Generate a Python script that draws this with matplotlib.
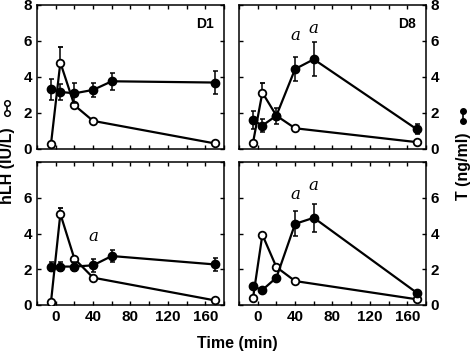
import matplotlib
matplotlib.use("Agg")
import matplotlib.pyplot as plt
from matplotlib.ticker import MultipleLocator

plt.rcParams['font.family'] = ['Liberation Sans', 'DejaVu Sans']
plt.rcParams['font.weight'] = 'bold'

time = [-5, 5, 20, 40, 60, 170]
time_lh = [-5, 5, 20, 40, 170]

# D1 (top-left)
d1_lh = [0.28, 4.8, 2.43, 1.56, 0.31]
d1_lh_err = [0, 0.88, 0, 0, 0]
d1_t = [3.31, 3.17, 3.09, 3.28, 3.76, 3.69]
d1_t_err = [0.6, 0.45, 0.55, 0.37, 0.48, 0.62]

# D8 (top-right)
d8_lh = [0.35, 3.13, 1.85, 1.15, 0.38]
d8_lh_err = [0, 0.52, 0, 0, 0]
d8_t = [1.6, 1.3, 1.85, 4.44, 4.98, 1.1]
d8_t_err = [0.5, 0.38, 0.45, 0.68, 0.95, 0.28]

# bottom-left
b1_lh = [0.17, 5.1, 2.59, 1.53, 0.26]
b1_lh_err = [0, 0.34, 0, 0, 0]
b1_t = [2.15, 2.15, 2.15, 2.22, 2.74, 2.27]
b1_t_err = [0.27, 0.25, 0.25, 0.35, 0.36, 0.36]

# bottom-right
b8_lh = [0.39, 3.93, 2.12, 1.34, 0.32]
b8_t = [1.04, 0.84, 1.53, 4.54, 4.88, 0.69]
b8_t_err = [0, 0, 0, 0.7, 0.78, 0]

xticks = [0, 40, 80, 120, 160]
yticks = [0, 2, 4, 6, 8]

fig = plt.figure(figsize=(4.74, 3.53), dpi=100)
W = 0.3945
H_top = 0.408
H_bot = 0.405
positions = [
    [0.078, 0.578, W, H_top],
    [0.5042, 0.578, W, H_top],
    [0.078, 0.136, W, H_bot],
    [0.5042, 0.136, W, H_bot],
]

panels = [
    (d1_lh, d1_lh_err, d1_t, d1_t_err, 'D1', []),
    (d8_lh, d8_lh_err, d8_t, d8_t_err, 'D8', [(40, 6.28), (60, 6.7)]),
    (b1_lh, b1_lh_err, b1_t, b1_t_err, None, [(40, 3.85)]),
    (b8_lh, [0]*5, b8_t, b8_t_err, None, [(40, 6.16), (60, 6.69)]),
]

for i, (pos, (lh, lh_err, t, t_err, lab, annots)) in enumerate(zip(positions, panels)):
    ax = fig.add_axes(pos)
    ax.errorbar(time_lh, lh, yerr=[[0]*len(lh), lh_err], fmt='-o', color='black',
                mfc='white', mec='black', ms=5.5, lw=1.6, mew=1.3,
                capsize=1.8, elinewidth=1.1, capthick=1.1, zorder=3)
    ax.errorbar(time, t, yerr=t_err, fmt='-o', color='black', mfc='black',
                mec='black', ms=6, lw=1.6, capsize=1.8, elinewidth=1.1,
                capthick=1.1, zorder=4)
    ax.set_xlim(-20, 180)
    ax.set_ylim(0, 8)
    ax.set_xticks(xticks)
    ax.xaxis.set_minor_locator(MultipleLocator(20))
    ax.set_yticks(yticks)
    ax.tick_params(which='both', direction='in', top=True, right=True,
                   length=3, width=1.0, labelsize=11)
    for s in ax.spines.values():
        s.set_linewidth(1.1)
    if i < 2:
        ax.set_xticklabels([])
    if i % 2 == 1:
        ax.yaxis.tick_right()
        ax.tick_params(which='both', left=True, right=True, labelleft=False,
                       labelright=True)
    if i < 2:
        ax.set_yticklabels([str(v) for v in yticks])
    else:
        ax.set_yticklabels([str(v) if v < 8 else '' for v in yticks])
    for lbl in ax.get_xticklabels() + ax.get_yticklabels():
        lbl.set_fontweight('bold')
    if lab:
        ax.text(0.9, 0.87, lab, transform=ax.transAxes, ha='center', va='center',
                fontsize=10, fontweight='bold')
    for (xa, ya) in annots:
        ax.text(xa, ya, 'a', ha='center', va='center', fontsize=12,
                fontstyle='italic', fontweight='normal', family='DejaVu Serif')

fig.text(0.5, 0.028, 'Time (min)', ha='center', va='center', fontsize=11.5,
         fontweight='bold')
fig.text(0.016, 0.53, 'hLH (IU/L)', rotation=90, ha='center', va='center',
         fontsize=11.5, fontweight='bold')
fig.text(0.977, 0.53, 'T (ng/ml)', rotation=90, ha='center', va='center',
         fontsize=11.5, fontweight='bold')

# legend symbols next to axis labels
ax_sym = fig.add_axes([0, 0, 1, 1], facecolor='none')
ax_sym.set_xlim(0, 474)
ax_sym.set_ylim(353, 0)
ax_sym.axis('off')
ax_sym.plot([7, 7], [103, 113], '-o', color='black', mfc='white', mec='black',
            ms=4, lw=1.2, mew=1.1)
ax_sym.plot([463, 463], [111, 121], '-o', color='black', mfc='black',
            mec='black', ms=4, lw=1.2)

fig.savefig('out.png', dpi=100)
